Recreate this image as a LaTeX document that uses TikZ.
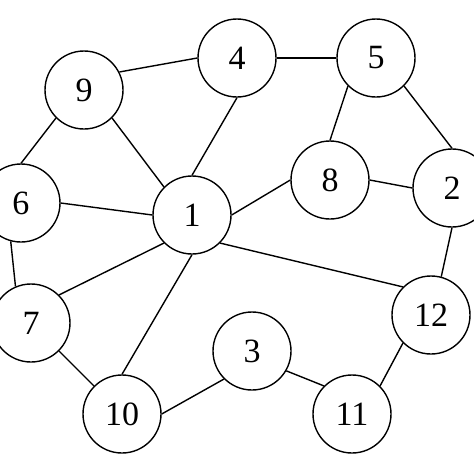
\documentclass[tikz,border=0pt]{standalone}
\usepackage{fontspec}
\setmainfont{Liberation Serif}
\begin{document}
\begin{tikzpicture}[x=1pt,y=-1pt,
  vtx/.style={circle,draw,line width=1.4pt,minimum size=78pt,inner sep=0pt,font=\fontsize{34}{36}\selectfont},
  edge/.style={line width=1.4pt}]
\useasboundingbox (0,0) rectangle (474,474);
\node[vtx] (n4) at (237,58) {4};
\node[vtx] (n5) at (376,58) {5};
\node[vtx] (n9) at (84,90) {9};
\node[vtx] (n8) at (330,180) {8};
\node[vtx] (n2) at (452,188) {2};
\node[vtx] (n6) at (21,203) {6};
\node[vtx] (n1) at (192,215) {1};
\node[vtx] (n7) at (31,323) {7};
\node[vtx] (n12) at (431,315) {12};
\node[vtx] (n3) at (252,351) {3};
\node[vtx] (n10) at (122,414) {10};
\node[vtx] (n11) at (352,414) {11};
\draw[edge] (n9.27) -- (n4.west);
\draw[edge] (n4.east) -- (n5.west);
\draw[edge] (n9.south west) -- (n6.north);
\draw[edge] (n9.south east) -- (n1.north west);
\draw[edge] (n4.south) -- (n1.north);
\draw[edge] (n5.south west) -- (n8.north);
\draw[edge] (n5.south east) -- (n2.north);
\draw[edge] (n8.east) -- (n2.west);
\draw[edge] (n6.east) -- (n1.west);
\draw[edge] (n1.east) -- (n8.west);
\draw[edge] (n2.south) -- (n12.75);
\draw[edge] (n6.255) -- (n7.113);
\draw[edge] (n7.north east) -- (n1.south west);
\draw[edge] (n1.south) -- (n10.north);
\draw[edge] (n1.south east) -- (n12.north west);
\draw[edge] (n7.south east) -- (n10.north west);
\draw[edge] (n10.east) -- (n3.south west);
\draw[edge] (n3.-30) -- (n11.north west);
\draw[edge] (n11.north east) -- (n12.south west);
\end{tikzpicture}
\end{document}
